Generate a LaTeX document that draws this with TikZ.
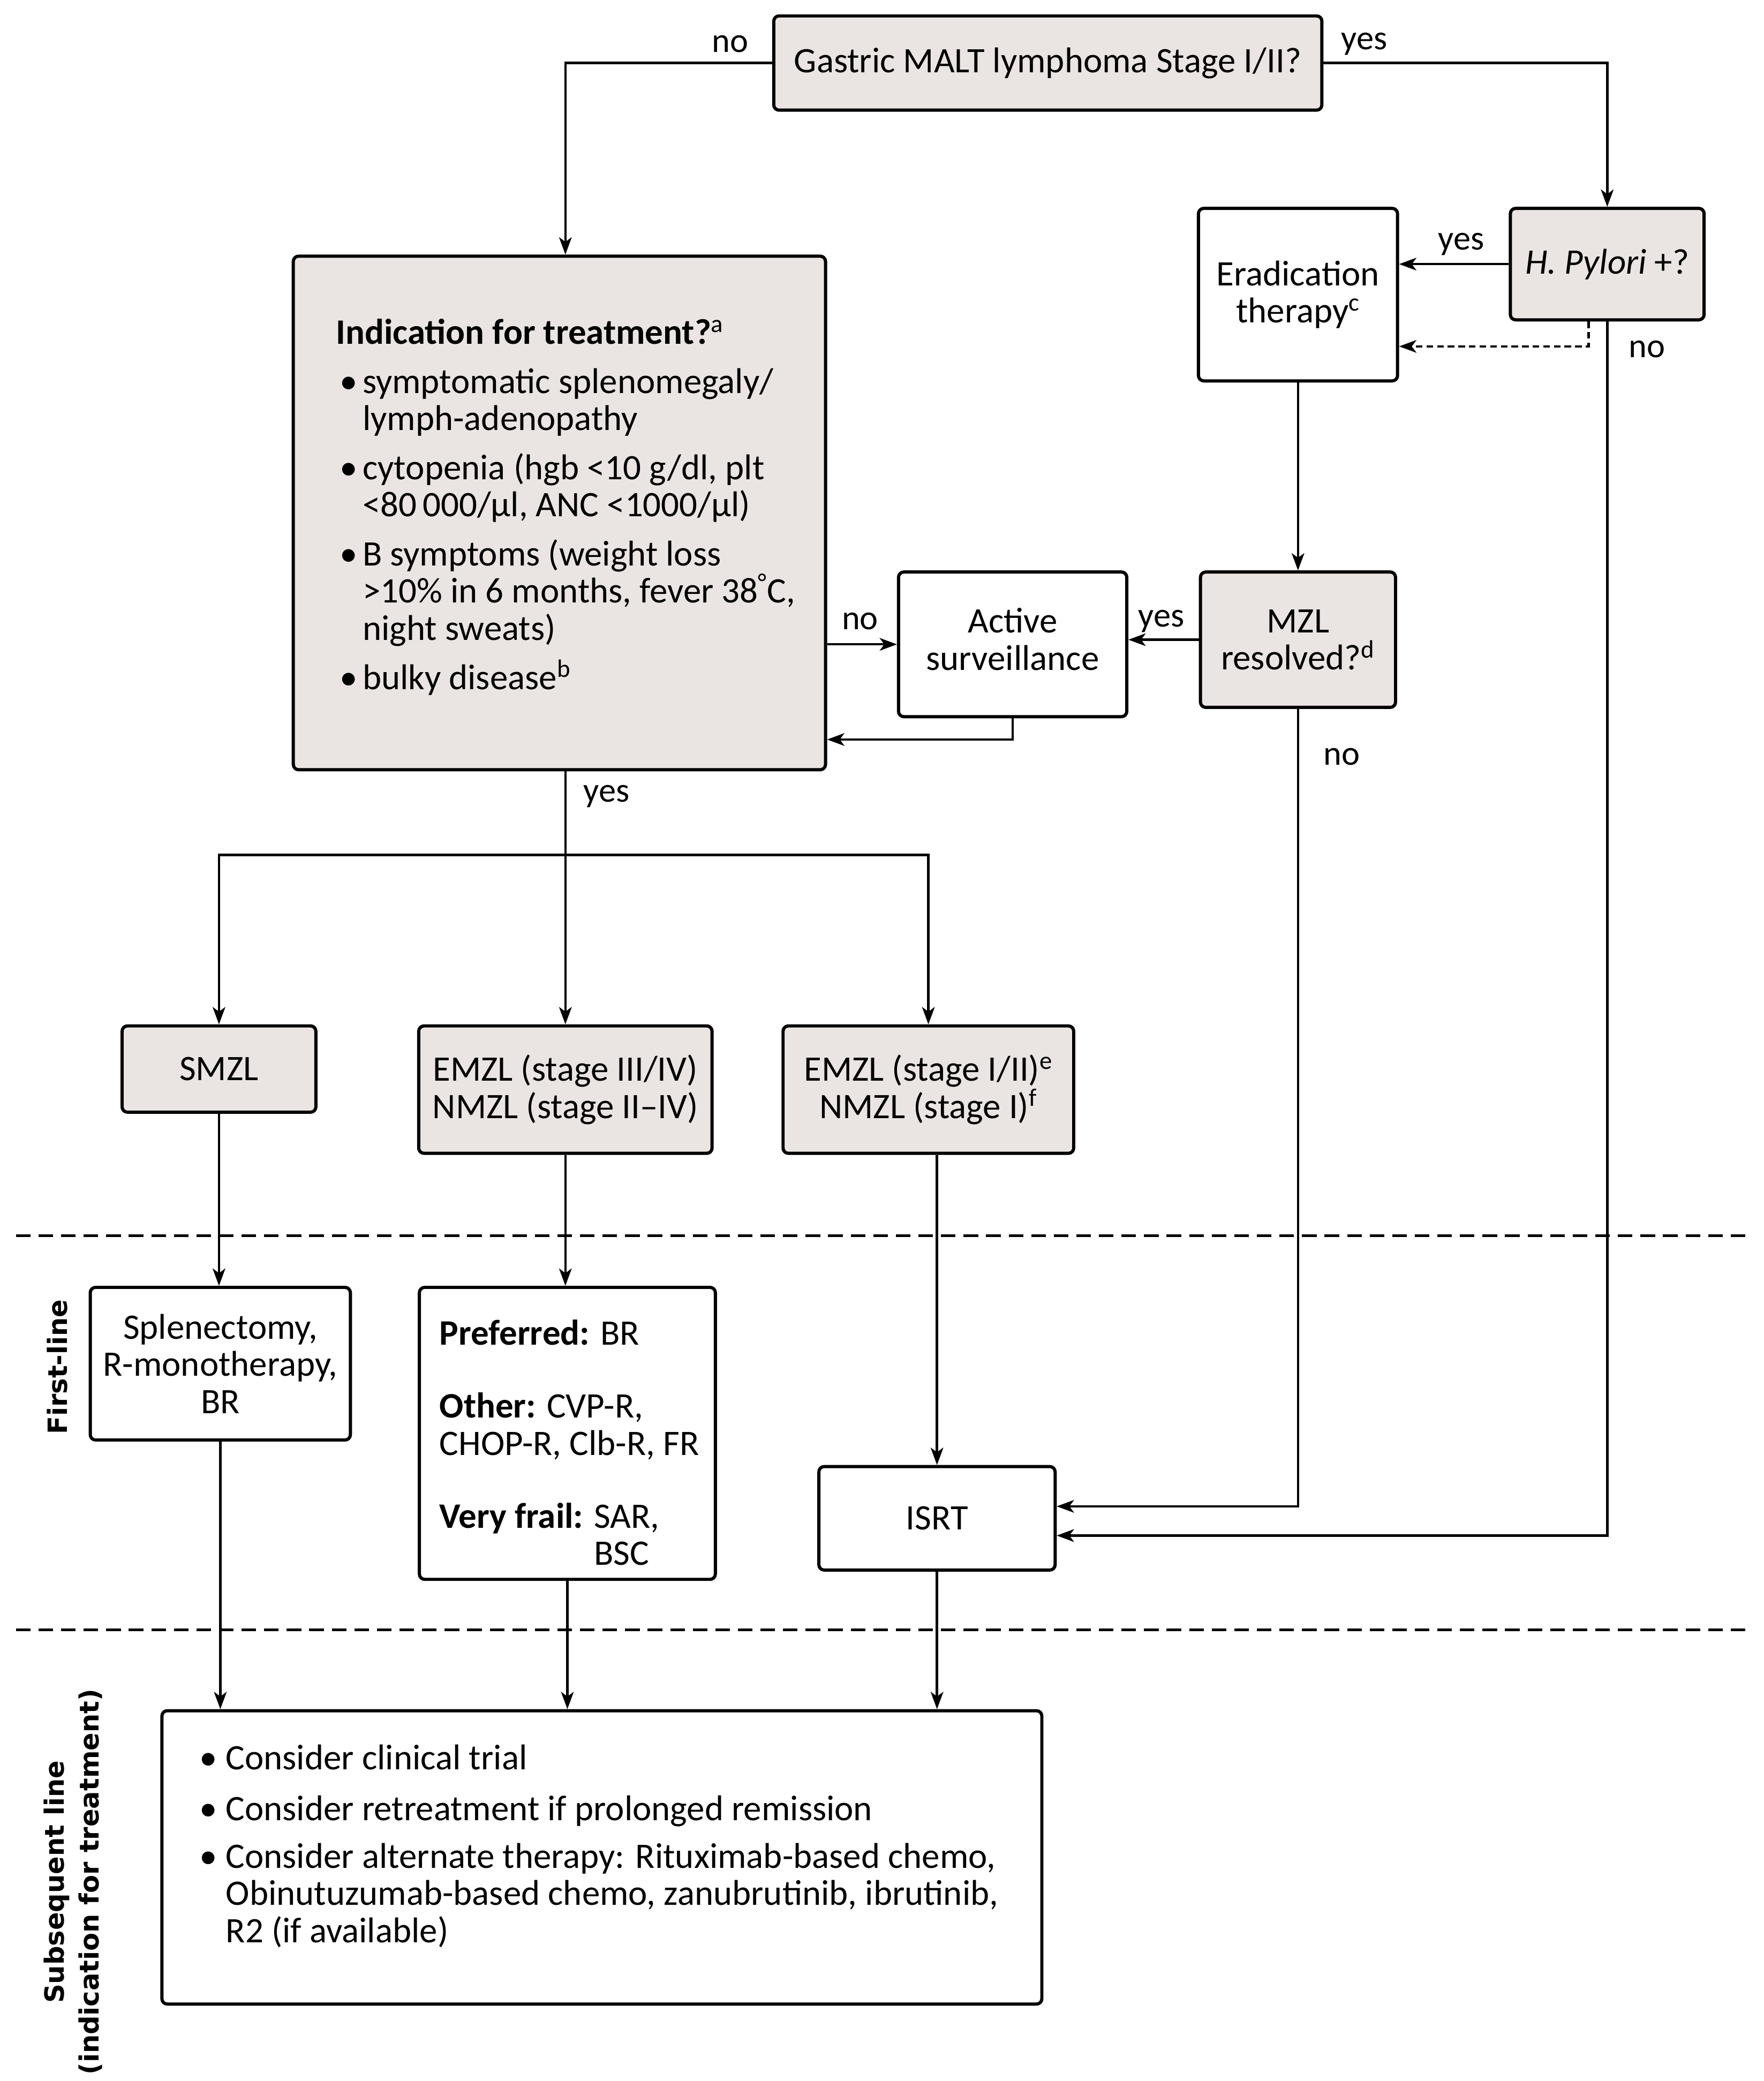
\documentclass[tikz,border=0pt]{standalone}
\usepackage{fontspec}
\setmainfont{Carlito}
\newfontfamily\sidefont{DejaVu Sans}
\usetikzlibrary{arrows.meta}
\definecolor{boxgray}{RGB}{234,229,227}

\begin{document}
\begin{tikzpicture}[x=1pt,y=-1pt,
	every node/.style={font=\fontsize{27}{28}\selectfont},
	qbox/.style={draw,fill=boxgray,rounded corners=4pt,line width=2.4pt,inner sep=0pt,align=center},
	abox/.style={qbox,fill=white},
	lbl/.style={font=\fontsize{26}{28}\selectfont,inner sep=0pt},
	link/.style={line width=1.8pt},
	arr/.style={link,-{Stealth[length=13pt,width=9.5pt,inset=3.5pt]}},
	sep/.style={line width=2pt,dash pattern=on 11pt off 6pt},
	side/.style={font=\sidefont\bfseries\fontsize{20}{26.5}\selectfont,rotate=90,align=center,inner sep=0pt}]

\useasboundingbox (0,0) rectangle (1329,1568);
\fill[white] (0,0) rectangle (1329,1568);

		\node [qbox,name=gastric,minimum width=413pt,minimum height=71pt] at (789.5,47.5) {Gastric MALT lymphoma Stage I/II?};
		\node [qbox,name=indic,minimum width=401pt,minimum height=387pt] at (421.5,386.5) {};
		\node [name=indictxt,anchor=west,align=left,inner sep=0pt] at (253,382)
			{\textbf{Indication for treatment?}\textsuperscript{a}\\[9pt]
			\makebox[20pt][l]{\hspace{3pt}\textbullet}symptomatic splenomegaly/\\
			\hspace*{20pt}lymph-adenopathy\\[9pt]
			\makebox[20pt][l]{\hspace{3pt}\textbullet}cytopenia (hgb <10 g/dl, plt\\
			\hspace*{20pt}<80\,000/µl, ANC <1000/µl)\\[9pt]
			\makebox[20pt][l]{\hspace{3pt}\textbullet}B symptoms (weight loss\\
			\hspace*{20pt}>10\% in 6 months, fever 38\textsuperscript{°}C,\\
			\hspace*{20pt}night sweats)\\[9pt]
			\makebox[20pt][l]{\hspace{3pt}\textbullet}bulky disease\textsuperscript{b}};

		\node [abox,name=erad,minimum width=150pt,minimum height=130pt] at (978,222) {Eradication\\therapy\textsuperscript{c}};
		\node [qbox,name=hpylori,minimum width=146pt,minimum height=84pt] at (1211,199) {\textit{H. Pylori} +?};
		\node [qbox,name=mzl,minimum width=147pt,minimum height=102pt] at (978,482) {MZL\\resolved?\textsuperscript{d}};
		\node [abox,name=active,minimum width=172pt,minimum height=109pt] at (763,485.5) {Active\\surveillance\\[-20pt]};

		\node [qbox,name=smzl,minimum width=146pt,minimum height=65pt] at (165,805.5) {SMZL};
		\node [qbox,name=emzl,minimum width=221pt,minimum height=96pt] at (426,821) {EMZL (stage III/IV)\\NMZL (stage II--IV)};
		\node [qbox,name=emzlloc,minimum width=219pt,minimum height=96pt] at (699.5,821) {EMZL (stage I/II)\textsuperscript{e}\\NMZL (stage I)\textsuperscript{f}};

		\node [abox,name=splen,minimum width=196pt,minimum height=115pt] at (166,1027.5) {Splenectomy,\\R-monotherapy,\\BR};
		\node [abox,name=pref,minimum width=223pt,minimum height=220pt] at (427.5,1080) {};
		\node [name=preftxt,anchor=west,align=left,inner sep=0pt] at (331,1089)
			{\textbf{Preferred:} BR\\[27pt]
			\textbf{Other:} CVP-R,\\
			CHOP-R, Clb-R, FR\\[27pt]
			\textbf{Very frail:} SAR,\\
			\phantom{\textbf{Very frail:} }BSC};
		\node [abox,name=isrt,minimum width=178pt,minimum height=78pt] at (706,1144) {ISRT};

		\node [abox,name=subseq,minimum width=663pt,minimum height=221pt] at (453.5,1399.5) {};
		\node [name=subtxt,anchor=west,align=left,inner sep=0pt] at (150,1391)
			{\makebox[20pt][l]{\textbullet}Consider clinical trial\\[10pt]
			\makebox[20pt][l]{\textbullet}Consider retreatment if prolonged remission\\[8pt]
			\makebox[20pt][l]{\textbullet}Consider alternate therapy: Rituximab-based chemo,\\
			\hspace*{20pt}Obinutuzumab-based chemo, zanubrutinib, ibrutinib,\\
			\hspace*{20pt}R2 (if available)};

\node [side,name=firstline] at (43,1030) {First-line};
\node [side,name=subline] at (55,1418) {Subsequent line\\(indication for treatment)};

\node [lbl,name=noa] at (550,33) {no};
\node [lbl,name=yesa] at (1028,33) {yes};
\node [lbl,name=yesb] at (1101,184) {yes};
\node [lbl,name=nob] at (1241,263) {no};
\node [lbl,name=noc] at (648,468) {no};
\node [lbl,name=yesc] at (875,468) {yes};
\node [lbl,name=nod] at (1011,570) {no};
\node [lbl,name=yesd] at (457,600) {yes};

	\draw [arr] (gastric.west) -| ([xshift=4.5pt]indic.north);
	\draw [arr] (gastric.east) -| (hpylori.north);
	\draw [arr] (hpylori.west) -- (erad.east |- hpylori.west);
	\draw [arr,dash pattern=on 5pt off 3pt] ([xshift=-14pt]hpylori.south) |- ([yshift=-39pt]erad.east);
	\draw [arr] (erad.south) -- (mzl.north);
	\draw [arr] (mzl.west) -- (active.east |- mzl.west);
	\draw [arr] (indic.east |- active.west) -- (active.west);
	\draw [arr] (active.south) |- ([yshift=24pt]indic.south east);
	\draw [arr] (mzl.south) |- ([yshift=9pt]isrt.east);
	\draw [arr] (hpylori.south) |- ([yshift=-13pt]isrt.east);

	\draw [link] ([xshift=4.5pt]indic.south) -- ++(0,63) coordinate (split);
	\draw [arr] (split) -| (smzl.north);
	\draw [arr] (split) -- (emzl.north);
	\draw [arr] (split) -| (emzlloc.north);

	\draw [arr] (smzl.south) -- (smzl.south |- splen.north);
	\draw [arr] (emzl.south) -- (emzl.south |- pref.north);
	\draw [arr] (isrt.north |- emzlloc.south) -- (isrt.north);

	\draw [arr] (splen.south) -- (splen.south |- subseq.north);
	\draw [arr] (pref.south) -- (pref.south |- subseq.north);
	\draw [arr] (isrt.south) -- (isrt.south |- subseq.north);

%separators
\draw [sep] (12,931) -- (1317,931);
\draw [sep] (12,1228) -- (1317,1228);
\end{tikzpicture}
\end{document}
